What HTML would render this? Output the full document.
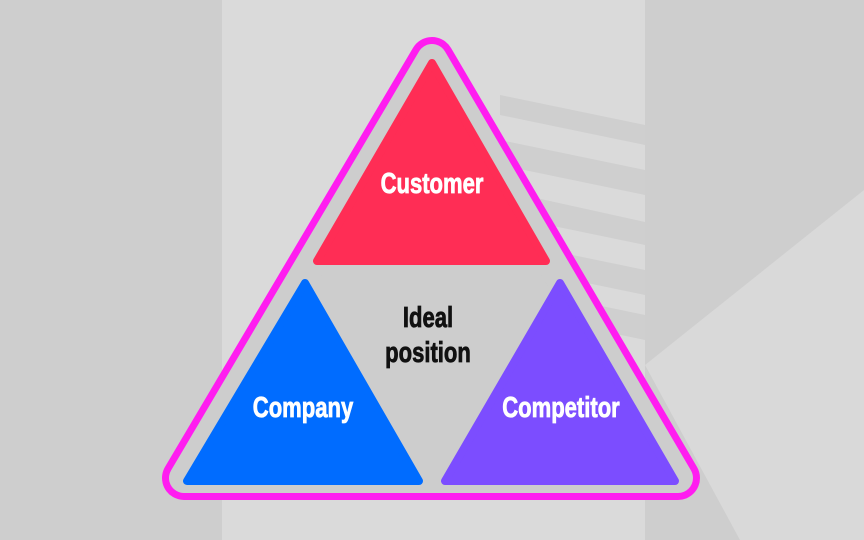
<!DOCTYPE html>
<html><head><style>
html,body{margin:0;padding:0;width:864px;height:540px;overflow:hidden;background:#cecece}
svg{display:block}
text{font-family:"Liberation Sans",sans-serif;font-weight:bold;text-anchor:middle}
</style></head><body>
<svg width="864" height="540" viewBox="0 0 864 540" xmlns="http://www.w3.org/2000/svg">
<rect x="0" y="0" width="864" height="540" fill="#cecece"/>
<rect x="222" y="0" width="423" height="540" fill="#dadada"/>
<polygon points="864,190 645,365 740,540 864,540" fill="#d9d9d9"/>
<g fill="#cfcfcf">
<polygon points="500,95 645,125 645,145 500,115"/>
<polygon points="500,140 645,170 645,195 500,165"/>
<polygon points="500,190 645,222 645,245 500,215"/>
<polygon points="500,240 645,270 645,295 500,265"/>
<polygon points="500,285 645,315 645,340 500,310"/>
</g>
<path d="M432,59 L184,478 L678,478 Z" fill="#ff1df0" stroke="#ff1df0" stroke-width="44" stroke-linejoin="round"/>
<path d="M432,59 L184,478 L678,478 Z" fill="#cdcdcd" stroke="#cdcdcd" stroke-width="30" stroke-linejoin="round"/>
<path d="M432,63 L317,261 L546,261 Z" fill="#ff2d55" stroke="#ff2d55" stroke-width="8" stroke-linejoin="round"/>
<path d="M305,283 L187,481 L419,481 Z" fill="#006cff" stroke="#006cff" stroke-width="8" stroke-linejoin="round"/>
<path d="M560,283 L445,481 L675,481 Z" fill="#7c4dff" stroke="#7c4dff" stroke-width="8" stroke-linejoin="round"/>
<g font-size="29" stroke-width="0.8">
<text transform="translate(432,193) scale(0.76,1)" fill="#fff" stroke="#fff">Customer</text>
<text transform="translate(303,417) scale(0.76,1)" fill="#fff" stroke="#fff">Company</text>
<text transform="translate(561,417) scale(0.76,1)" fill="#fff" stroke="#fff">Competitor</text>
<text transform="translate(428,327) scale(0.76,1)" fill="#111" stroke="#111">Ideal</text>
<text transform="translate(428,362) scale(0.76,1)" fill="#111" stroke="#111">position</text>
</g>
</svg>
</body></html>
